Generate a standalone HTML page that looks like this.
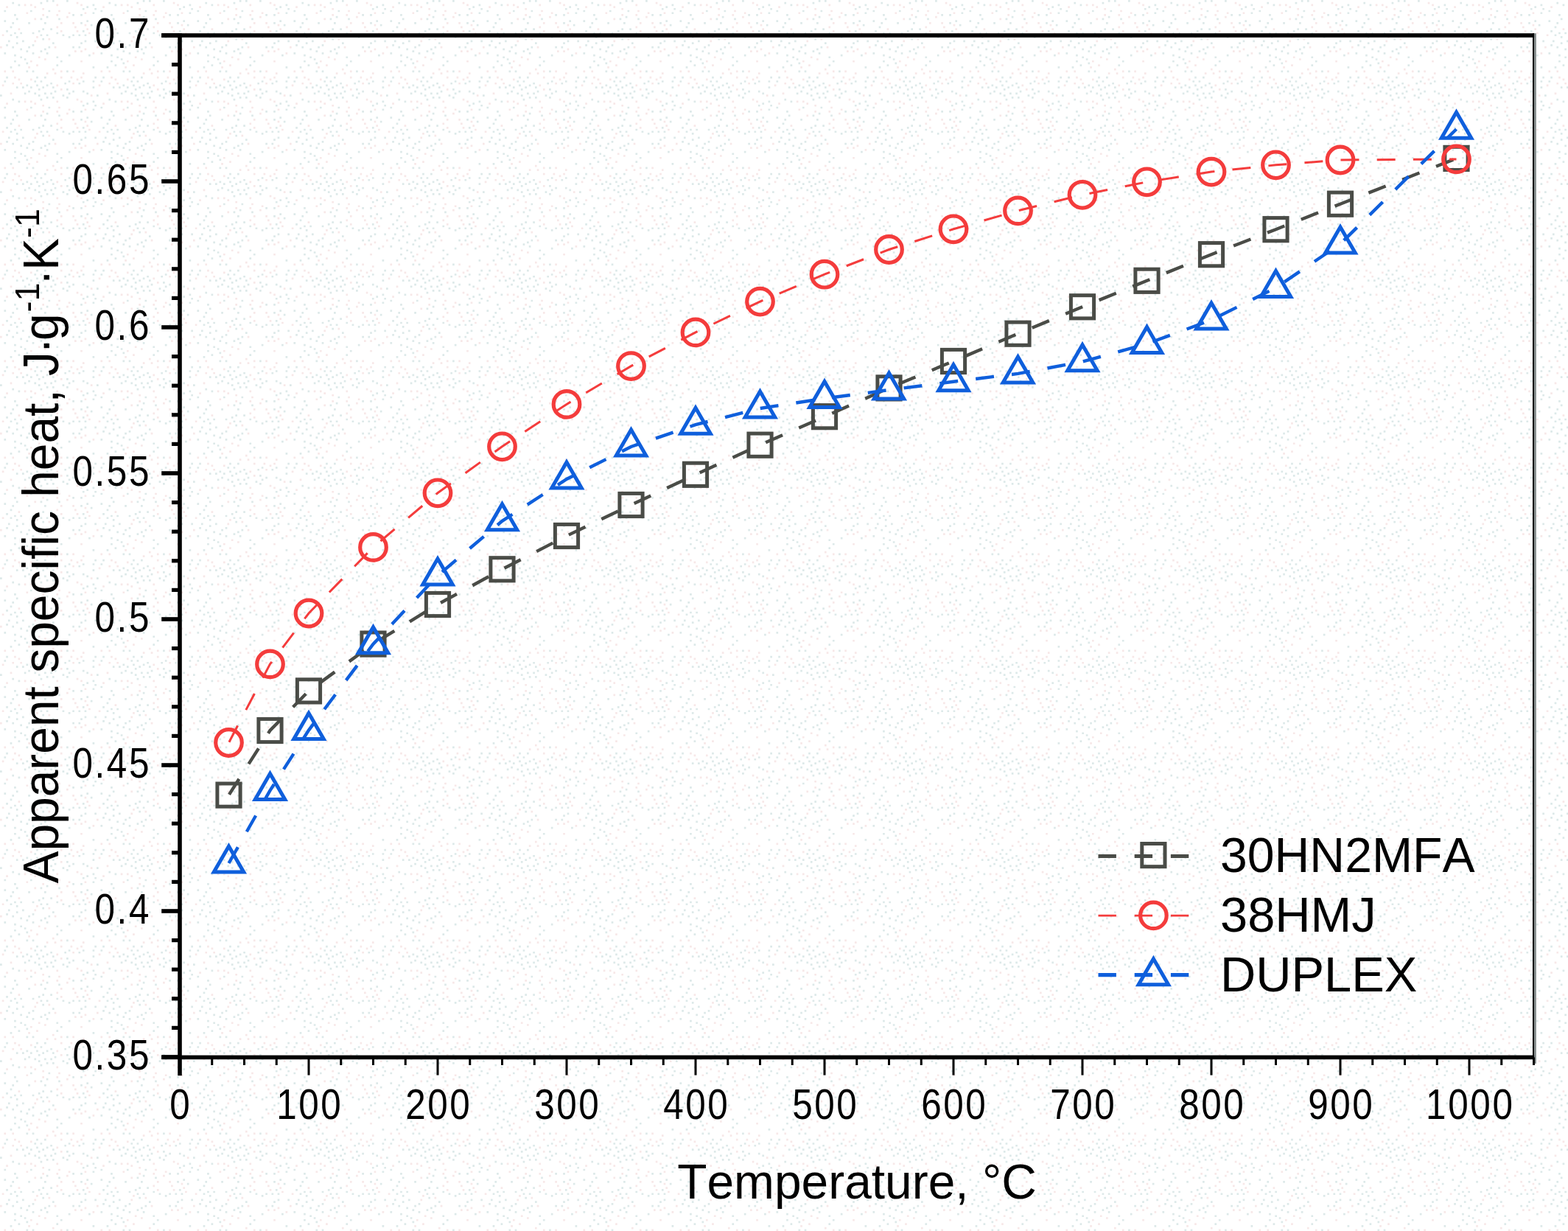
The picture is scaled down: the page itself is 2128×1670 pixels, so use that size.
<!DOCTYPE html>
<html><head><meta charset="utf-8"><title>Apparent specific heat</title>
<style>html,body{margin:0;padding:0;background:#fff;}svg{display:block;} text{font-kerning:none;}</style>
</head><body>
<svg width="2128" height="1670" viewBox="0 0 2128 1670">
<rect x="0" y="0" width="2128" height="1670" fill="#ffffff"/>
<defs><pattern id="dith" patternUnits="userSpaceOnUse" x="0" y="0" width="131" height="131"><path d="M49.12,103.71h2.7v2.7h-2.7zM111.90,40.94h2.7v2.7h-2.7zM35.48,84.60h2.7v2.7h-2.7zM49.12,114.62h2.7v2.7h-2.7zM114.62,54.58h2.7v2.7h-2.7zM109.17,30.02h2.7v2.7h-2.7zM76.42,87.33h2.7v2.7h-2.7zM92.79,109.17h2.7v2.7h-2.7zM106.44,46.40h2.7v2.7h-2.7zM125.54,16.38h2.7v2.7h-2.7zM27.29,43.67h2.7v2.7h-2.7zM16.38,62.77h2.7v2.7h-2.7zM24.56,87.33h2.7v2.7h-2.7zM60.04,65.50h2.7v2.7h-2.7zM70.96,117.35h2.7v2.7h-2.7zM62.77,46.40h2.7v2.7h-2.7zM62.77,0.00h2.7v2.7h-2.7zM21.83,24.56h2.7v2.7h-2.7zM90.06,95.52h2.7v2.7h-2.7zM38.21,30.02h2.7v2.7h-2.7zM76.42,43.67h2.7v2.7h-2.7zM128.27,54.58h2.7v2.7h-2.7zM92.79,49.12h2.7v2.7h-2.7zM62.77,21.83h2.7v2.7h-2.7zM35.48,114.62h2.7v2.7h-2.7zM90.06,120.08h2.7v2.7h-2.7zM79.15,24.56h2.7v2.7h-2.7zM98.25,46.40h2.7v2.7h-2.7zM70.96,0.00h2.7v2.7h-2.7zM117.35,125.54h2.7v2.7h-2.7zM106.44,111.90h2.7v2.7h-2.7zM68.23,111.90h2.7v2.7h-2.7zM73.69,122.81h2.7v2.7h-2.7zM43.67,43.67h2.7v2.7h-2.7zM54.58,46.40h2.7v2.7h-2.7zM38.21,62.77h2.7v2.7h-2.7zM128.27,10.92h2.7v2.7h-2.7zM62.77,114.62h2.7v2.7h-2.7zM84.60,128.27h2.7v2.7h-2.7zM125.54,90.06h2.7v2.7h-2.7zM51.85,120.08h2.7v2.7h-2.7zM125.54,5.46h2.7v2.7h-2.7zM46.40,125.54h2.7v2.7h-2.7zM87.33,111.90h2.7v2.7h-2.7zM19.10,43.67h2.7v2.7h-2.7zM19.10,81.88h2.7v2.7h-2.7zM125.54,109.17h2.7v2.7h-2.7zM70.96,57.31h2.7v2.7h-2.7zM60.04,125.54h2.7v2.7h-2.7zM60.04,103.71h2.7v2.7h-2.7zM8.19,60.04h2.7v2.7h-2.7zM0.00,128.27h2.7v2.7h-2.7zM54.58,2.73h2.7v2.7h-2.7zM5.46,109.17h2.7v2.7h-2.7zM92.79,125.54h2.7v2.7h-2.7zM13.65,90.06h2.7v2.7h-2.7zM43.67,70.96h2.7v2.7h-2.7zM19.10,73.69h2.7v2.7h-2.7zM81.88,81.88h2.7v2.7h-2.7zM13.65,46.40h2.7v2.7h-2.7zM40.94,13.65h2.7v2.7h-2.7zM117.35,8.19h2.7v2.7h-2.7zM5.46,70.96h2.7v2.7h-2.7zM21.83,57.31h2.7v2.7h-2.7zM27.29,76.42h2.7v2.7h-2.7zM92.79,73.69h2.7v2.7h-2.7zM54.58,109.17h2.7v2.7h-2.7zM57.31,38.21h2.7v2.7h-2.7zM10.92,54.58h2.7v2.7h-2.7zM5.46,13.65h2.7v2.7h-2.7zM68.23,38.21h2.7v2.7h-2.7zM40.94,117.35h2.7v2.7h-2.7zM38.21,122.81h2.7v2.7h-2.7zM120.08,73.69h2.7v2.7h-2.7zM109.17,57.31h2.7v2.7h-2.7zM98.25,62.77h2.7v2.7h-2.7zM117.35,27.29h2.7v2.7h-2.7zM21.83,117.35h2.7v2.7h-2.7zM21.83,49.12h2.7v2.7h-2.7zM8.19,40.94h2.7v2.7h-2.7zM65.50,13.65h2.7v2.7h-2.7zM65.50,62.77h2.7v2.7h-2.7zM24.56,5.46h2.7v2.7h-2.7zM111.90,109.17h2.7v2.7h-2.7zM16.38,30.02h2.7v2.7h-2.7zM46.40,109.17h2.7v2.7h-2.7zM54.58,68.23h2.7v2.7h-2.7zM35.48,95.52h2.7v2.7h-2.7zM76.42,76.42h2.7v2.7h-2.7zM43.67,95.52h2.7v2.7h-2.7zM30.02,54.58h2.7v2.7h-2.7zM8.19,103.71h2.7v2.7h-2.7zM128.27,103.71h2.7v2.7h-2.7zM51.85,128.27h2.7v2.7h-2.7zM60.04,30.02h2.7v2.7h-2.7zM62.77,70.96h2.7v2.7h-2.7zM114.62,46.40h2.7v2.7h-2.7zM90.06,0.00h2.7v2.7h-2.7zM13.65,35.48h2.7v2.7h-2.7zM106.44,62.77h2.7v2.7h-2.7zM16.38,2.73h2.7v2.7h-2.7zM30.02,117.35h2.7v2.7h-2.7zM54.58,24.56h2.7v2.7h-2.7zM5.46,27.29h2.7v2.7h-2.7zM122.81,32.75h2.7v2.7h-2.7zM57.31,117.35h2.7v2.7h-2.7zM43.67,60.04h2.7v2.7h-2.7zM125.54,117.35h2.7v2.7h-2.7zM27.29,65.50h2.7v2.7h-2.7zM111.90,122.81h2.7v2.7h-2.7zM109.17,19.10h2.7v2.7h-2.7zM111.90,10.92h2.7v2.7h-2.7zM57.31,51.85h2.7v2.7h-2.7zM98.25,19.10h2.7v2.7h-2.7zM32.75,79.15h2.7v2.7h-2.7zM51.85,40.94h2.7v2.7h-2.7zM32.75,125.54h2.7v2.7h-2.7zM98.25,122.81h2.7v2.7h-2.7zM84.60,46.40h2.7v2.7h-2.7zM19.10,19.10h2.7v2.7h-2.7zM68.23,125.54h2.7v2.7h-2.7zM35.48,68.23h2.7v2.7h-2.7z" fill="#dde9e9"/><path d="M51.85,76.42h2.7v2.7h-2.7zM120.08,43.67h2.7v2.7h-2.7zM27.29,111.90h2.7v2.7h-2.7zM103.71,106.44h2.7v2.7h-2.7zM100.98,35.48h2.7v2.7h-2.7zM38.21,90.06h2.7v2.7h-2.7zM111.90,98.25h2.7v2.7h-2.7zM114.62,16.38h2.7v2.7h-2.7zM40.94,81.88h2.7v2.7h-2.7zM40.94,5.46h2.7v2.7h-2.7zM0.00,62.77h2.7v2.7h-2.7zM109.17,103.71h2.7v2.7h-2.7zM5.46,95.52h2.7v2.7h-2.7zM49.12,49.12h2.7v2.7h-2.7zM81.88,103.71h2.7v2.7h-2.7zM109.17,68.23h2.7v2.7h-2.7zM2.73,46.40h2.7v2.7h-2.7zM35.48,16.38h2.7v2.7h-2.7zM16.38,95.52h2.7v2.7h-2.7zM109.17,5.46h2.7v2.7h-2.7zM125.54,70.96h2.7v2.7h-2.7zM40.94,106.44h2.7v2.7h-2.7zM13.65,125.54h2.7v2.7h-2.7zM57.31,19.10h2.7v2.7h-2.7zM103.71,2.73h2.7v2.7h-2.7zM98.25,95.52h2.7v2.7h-2.7zM114.62,32.75h2.7v2.7h-2.7zM8.19,8.19h2.7v2.7h-2.7zM57.31,10.92h2.7v2.7h-2.7zM2.73,114.62h2.7v2.7h-2.7zM46.40,24.56h2.7v2.7h-2.7zM46.40,8.19h2.7v2.7h-2.7zM65.50,51.85h2.7v2.7h-2.7zM49.12,87.33h2.7v2.7h-2.7zM76.42,35.48h2.7v2.7h-2.7zM98.25,111.90h2.7v2.7h-2.7zM70.96,92.79h2.7v2.7h-2.7zM60.04,79.15h2.7v2.7h-2.7zM100.98,68.23h2.7v2.7h-2.7zM122.81,128.27h2.7v2.7h-2.7zM81.88,95.52h2.7v2.7h-2.7zM109.17,81.88h2.7v2.7h-2.7zM19.10,103.71h2.7v2.7h-2.7zM114.62,65.50h2.7v2.7h-2.7zM76.42,19.10h2.7v2.7h-2.7zM81.88,120.08h2.7v2.7h-2.7zM46.40,54.58h2.7v2.7h-2.7zM62.77,98.25h2.7v2.7h-2.7zM95.52,103.71h2.7v2.7h-2.7zM76.42,114.62h2.7v2.7h-2.7zM81.88,30.02h2.7v2.7h-2.7zM73.69,62.77h2.7v2.7h-2.7zM73.69,98.25h2.7v2.7h-2.7zM79.15,13.65h2.7v2.7h-2.7zM16.38,111.90h2.7v2.7h-2.7zM92.79,16.38h2.7v2.7h-2.7zM117.35,38.21h2.7v2.7h-2.7zM24.56,38.21h2.7v2.7h-2.7zM24.56,106.44h2.7v2.7h-2.7zM81.88,40.94h2.7v2.7h-2.7zM76.42,5.46h2.7v2.7h-2.7zM32.75,5.46h2.7v2.7h-2.7zM98.25,30.02h2.7v2.7h-2.7zM103.71,40.94h2.7v2.7h-2.7zM90.06,21.83h2.7v2.7h-2.7z" fill="#f7e8e8"/></pattern></defs>
<rect x="0" y="0" width="2128" height="1670" fill="url(#dith)"/>
<g fill="#000">
<rect x="241.20" y="45.20" width="5.6" height="1414.00"/>
<rect x="219.20" y="1431.60" width="1863.10" height="5.6"/>
<rect x="219.20" y="45.20" width="1863.10" height="5.6"/>
<rect x="2080" y="45.20" width="2.3" height="1397.70"/>
<rect x="2082.3" y="45.20" width="2.5" height="1397.70" fill="#7d8585"/>
<rect x="219.2" y="1431.20" width="24.80" height="5.6"/>
<rect x="219.2" y="1233.20" width="24.80" height="5.6"/>
<rect x="219.2" y="1035.20" width="24.80" height="5.6"/>
<rect x="219.2" y="837.20" width="24.80" height="5.6"/>
<rect x="219.2" y="639.20" width="24.80" height="5.6"/>
<rect x="219.2" y="441.20" width="24.80" height="5.6"/>
<rect x="219.2" y="243.20" width="24.80" height="5.6"/>
<rect x="219.2" y="45.20" width="24.80" height="5.6"/>
<rect x="233" y="1391.80" width="11.00" height="5.2"/>
<rect x="233" y="1352.20" width="11.00" height="5.2"/>
<rect x="233" y="1312.60" width="11.00" height="5.2"/>
<rect x="233" y="1273.00" width="11.00" height="5.2"/>
<rect x="233" y="1193.80" width="11.00" height="5.2"/>
<rect x="233" y="1154.20" width="11.00" height="5.2"/>
<rect x="233" y="1114.60" width="11.00" height="5.2"/>
<rect x="233" y="1075.00" width="11.00" height="5.2"/>
<rect x="233" y="995.80" width="11.00" height="5.2"/>
<rect x="233" y="956.20" width="11.00" height="5.2"/>
<rect x="233" y="916.60" width="11.00" height="5.2"/>
<rect x="233" y="877.00" width="11.00" height="5.2"/>
<rect x="233" y="797.80" width="11.00" height="5.2"/>
<rect x="233" y="758.20" width="11.00" height="5.2"/>
<rect x="233" y="718.60" width="11.00" height="5.2"/>
<rect x="233" y="679.00" width="11.00" height="5.2"/>
<rect x="233" y="599.80" width="11.00" height="5.2"/>
<rect x="233" y="560.20" width="11.00" height="5.2"/>
<rect x="233" y="520.60" width="11.00" height="5.2"/>
<rect x="233" y="481.00" width="11.00" height="5.2"/>
<rect x="233" y="401.80" width="11.00" height="5.2"/>
<rect x="233" y="362.20" width="11.00" height="5.2"/>
<rect x="233" y="322.60" width="11.00" height="5.2"/>
<rect x="233" y="283.00" width="11.00" height="5.2"/>
<rect x="233" y="203.80" width="11.00" height="5.2"/>
<rect x="233" y="164.20" width="11.00" height="5.2"/>
<rect x="233" y="124.60" width="11.00" height="5.2"/>
<rect x="233" y="85.00" width="11.00" height="5.2"/>
<rect x="286.25" y="1434.40" width="3" height="10.60"/>
<rect x="330.00" y="1434.40" width="3" height="10.60"/>
<rect x="373.75" y="1434.40" width="3" height="10.60"/>
<rect x="417.50" y="1434.40" width="3" height="24.20"/>
<rect x="461.25" y="1434.40" width="3" height="10.60"/>
<rect x="505.00" y="1434.40" width="3" height="10.60"/>
<rect x="548.75" y="1434.40" width="3" height="10.60"/>
<rect x="592.50" y="1434.40" width="3" height="24.20"/>
<rect x="636.25" y="1434.40" width="3" height="10.60"/>
<rect x="680.00" y="1434.40" width="3" height="10.60"/>
<rect x="723.75" y="1434.40" width="3" height="10.60"/>
<rect x="767.50" y="1434.40" width="3" height="24.20"/>
<rect x="811.25" y="1434.40" width="3" height="10.60"/>
<rect x="855.00" y="1434.40" width="3" height="10.60"/>
<rect x="898.75" y="1434.40" width="3" height="10.60"/>
<rect x="942.50" y="1434.40" width="3" height="24.20"/>
<rect x="986.25" y="1434.40" width="3" height="10.60"/>
<rect x="1030.00" y="1434.40" width="3" height="10.60"/>
<rect x="1073.75" y="1434.40" width="3" height="10.60"/>
<rect x="1117.50" y="1434.40" width="3" height="24.20"/>
<rect x="1161.25" y="1434.40" width="3" height="10.60"/>
<rect x="1205.00" y="1434.40" width="3" height="10.60"/>
<rect x="1248.75" y="1434.40" width="3" height="10.60"/>
<rect x="1292.50" y="1434.40" width="3" height="24.20"/>
<rect x="1336.25" y="1434.40" width="3" height="10.60"/>
<rect x="1380.00" y="1434.40" width="3" height="10.60"/>
<rect x="1423.75" y="1434.40" width="3" height="10.60"/>
<rect x="1467.50" y="1434.40" width="3" height="24.20"/>
<rect x="1511.25" y="1434.40" width="3" height="10.60"/>
<rect x="1555.00" y="1434.40" width="3" height="10.60"/>
<rect x="1598.75" y="1434.40" width="3" height="10.60"/>
<rect x="1642.50" y="1434.40" width="3" height="24.20"/>
<rect x="1686.25" y="1434.40" width="3" height="10.60"/>
<rect x="1730.00" y="1434.40" width="3" height="10.60"/>
<rect x="1773.75" y="1434.40" width="3" height="10.60"/>
<rect x="1817.50" y="1434.40" width="3" height="24.20"/>
<rect x="1861.25" y="1434.40" width="3" height="10.60"/>
<rect x="1905.00" y="1434.40" width="3" height="10.60"/>
<rect x="1948.75" y="1434.40" width="3" height="10.60"/>
<rect x="1992.50" y="1434.40" width="3" height="24.20"/>
<rect x="2036.25" y="1434.40" width="3" height="10.60"/>
<rect x="2080.00" y="1434.40" width="3" height="10.60"/>
</g>
<g font-family="'Liberation Sans', Arial, sans-serif" font-size="57.5" letter-spacing="3.02" fill="#000">
<text transform="translate(205.0,1450.8) scale(0.86,1)" text-anchor="end">0.35</text>
<text transform="translate(205.0,1252.8) scale(0.86,1)" text-anchor="end">0.4</text>
<text transform="translate(205.0,1054.8) scale(0.86,1)" text-anchor="end">0.45</text>
<text transform="translate(205.0,856.8) scale(0.86,1)" text-anchor="end">0.5</text>
<text transform="translate(205.0,658.8) scale(0.86,1)" text-anchor="end">0.55</text>
<text transform="translate(205.0,460.8) scale(0.86,1)" text-anchor="end">0.6</text>
<text transform="translate(205.0,262.8) scale(0.86,1)" text-anchor="end">0.65</text>
<text transform="translate(205.0,64.8) scale(0.86,1)" text-anchor="end">0.7</text>
<text transform="translate(245.3,1518.4) scale(0.86,1)" text-anchor="middle">0</text>
<text transform="translate(420.3,1518.4) scale(0.86,1)" text-anchor="middle">100</text>
<text transform="translate(595.3,1518.4) scale(0.86,1)" text-anchor="middle">200</text>
<text transform="translate(770.3,1518.4) scale(0.86,1)" text-anchor="middle">300</text>
<text transform="translate(945.3,1518.4) scale(0.86,1)" text-anchor="middle">400</text>
<text transform="translate(1120.3,1518.4) scale(0.86,1)" text-anchor="middle">500</text>
<text transform="translate(1295.3,1518.4) scale(0.86,1)" text-anchor="middle">600</text>
<text transform="translate(1470.3,1518.4) scale(0.86,1)" text-anchor="middle">700</text>
<text transform="translate(1645.3,1518.4) scale(0.86,1)" text-anchor="middle">800</text>
<text transform="translate(1820.3,1518.4) scale(0.86,1)" text-anchor="middle">900</text>
<text transform="translate(1995.3,1518.4) scale(0.86,1)" text-anchor="middle">1000</text>
</g>
<text transform="translate(1163.0,1625.7) scale(0.976,1)" font-family="'Liberation Sans', Arial, sans-serif" font-size="67.5" text-anchor="middle" fill="#000" style="font-kerning:none">Temperature, °C</text>
<text transform="translate(79.3,1198.5) rotate(-90) scale(0.955,1)" font-family="'Liberation Sans', Arial, sans-serif" font-size="69.0" fill="#000"><tspan x="0" y="0">Apparent specific heat, J</tspan><tspan x="752.39" y="2.3">·</tspan><tspan x="771.24" y="0">g</tspan><tspan x="811.65" y="-26.3" font-size="47.0">-1</tspan><tspan x="849.45" y="2.3">·</tspan><tspan x="870.78" y="0">K</tspan><tspan x="916.78" y="-26.3" font-size="47.0">-1</tspan></text>
<path d="M310.50,1078.60 L366.50,991.00 L419.00,937.40 L506.50,873.60 L594.00,820.00 L681.50,772.30 L769.00,727.00 L856.50,685.00 L944.00,643.80 L1031.50,603.70 L1119.00,565.20 L1206.50,526.40 L1294.00,490.00 L1381.50,452.70 L1469.00,416.30 L1556.50,380.80 L1644.00,345.20 L1731.50,311.20 L1819.00,276.70 L1976.50,214.90" fill="none" stroke="#4a4c47" stroke-width="4.4" stroke-dasharray="25 24.2" stroke-dashoffset="-0.9"/>
<rect x="294.90" y="1063.00" width="31.20" height="31.20" fill="none" stroke="#4a4c47" stroke-width="5.0"/>
<rect x="350.90" y="975.40" width="31.20" height="31.20" fill="none" stroke="#4a4c47" stroke-width="5.0"/>
<rect x="403.40" y="921.80" width="31.20" height="31.20" fill="none" stroke="#4a4c47" stroke-width="5.0"/>
<rect x="490.90" y="858.00" width="31.20" height="31.20" fill="none" stroke="#4a4c47" stroke-width="5.0"/>
<rect x="578.40" y="804.40" width="31.20" height="31.20" fill="none" stroke="#4a4c47" stroke-width="5.0"/>
<rect x="665.90" y="756.70" width="31.20" height="31.20" fill="none" stroke="#4a4c47" stroke-width="5.0"/>
<rect x="753.40" y="711.40" width="31.20" height="31.20" fill="none" stroke="#4a4c47" stroke-width="5.0"/>
<rect x="840.90" y="669.40" width="31.20" height="31.20" fill="none" stroke="#4a4c47" stroke-width="5.0"/>
<rect x="928.40" y="628.20" width="31.20" height="31.20" fill="none" stroke="#4a4c47" stroke-width="5.0"/>
<rect x="1015.90" y="588.10" width="31.20" height="31.20" fill="none" stroke="#4a4c47" stroke-width="5.0"/>
<rect x="1103.40" y="549.60" width="31.20" height="31.20" fill="none" stroke="#4a4c47" stroke-width="5.0"/>
<rect x="1190.90" y="510.80" width="31.20" height="31.20" fill="none" stroke="#4a4c47" stroke-width="5.0"/>
<rect x="1278.40" y="474.40" width="31.20" height="31.20" fill="none" stroke="#4a4c47" stroke-width="5.0"/>
<rect x="1365.90" y="437.10" width="31.20" height="31.20" fill="none" stroke="#4a4c47" stroke-width="5.0"/>
<rect x="1453.40" y="400.70" width="31.20" height="31.20" fill="none" stroke="#4a4c47" stroke-width="5.0"/>
<rect x="1540.90" y="365.20" width="31.20" height="31.20" fill="none" stroke="#4a4c47" stroke-width="5.0"/>
<rect x="1628.40" y="329.60" width="31.20" height="31.20" fill="none" stroke="#4a4c47" stroke-width="5.0"/>
<rect x="1715.90" y="295.60" width="31.20" height="31.20" fill="none" stroke="#4a4c47" stroke-width="5.0"/>
<rect x="1803.40" y="261.10" width="31.20" height="31.20" fill="none" stroke="#4a4c47" stroke-width="5.0"/>
<rect x="1960.90" y="199.30" width="31.20" height="31.20" fill="none" stroke="#4a4c47" stroke-width="5.0"/>
<path d="M310.50,1007.50 L366.50,900.90 L419.00,832.00 L506.50,742.40 L594.00,668.80 L681.50,605.80 L769.00,548.40 L856.50,496.60 L944.00,450.90 L1031.50,409.10 L1119.00,372.20 L1206.50,338.50 L1294.00,310.80 L1381.50,285.90 L1469.00,264.30 L1556.50,246.80 L1644.00,233.10 L1731.50,223.80 L1819.00,217.00 L1976.50,215.90" fill="none" stroke="#f43c3c" stroke-width="3.0" stroke-dasharray="25 24.2" stroke-dashoffset="-0.9"/>
<circle cx="310.50" cy="1007.50" r="17.80" fill="none" stroke="#f43c3c" stroke-width="5.2"/>
<circle cx="366.50" cy="900.90" r="17.80" fill="none" stroke="#f43c3c" stroke-width="5.2"/>
<circle cx="419.00" cy="832.00" r="17.80" fill="none" stroke="#f43c3c" stroke-width="5.2"/>
<circle cx="506.50" cy="742.40" r="17.80" fill="none" stroke="#f43c3c" stroke-width="5.2"/>
<circle cx="594.00" cy="668.80" r="17.80" fill="none" stroke="#f43c3c" stroke-width="5.2"/>
<circle cx="681.50" cy="605.80" r="17.80" fill="none" stroke="#f43c3c" stroke-width="5.2"/>
<circle cx="769.00" cy="548.40" r="17.80" fill="none" stroke="#f43c3c" stroke-width="5.2"/>
<circle cx="856.50" cy="496.60" r="17.80" fill="none" stroke="#f43c3c" stroke-width="5.2"/>
<circle cx="944.00" cy="450.90" r="17.80" fill="none" stroke="#f43c3c" stroke-width="5.2"/>
<circle cx="1031.50" cy="409.10" r="17.80" fill="none" stroke="#f43c3c" stroke-width="5.2"/>
<circle cx="1119.00" cy="372.20" r="17.80" fill="none" stroke="#f43c3c" stroke-width="5.2"/>
<circle cx="1206.50" cy="338.50" r="17.80" fill="none" stroke="#f43c3c" stroke-width="5.2"/>
<circle cx="1294.00" cy="310.80" r="17.80" fill="none" stroke="#f43c3c" stroke-width="5.2"/>
<circle cx="1381.50" cy="285.90" r="17.80" fill="none" stroke="#f43c3c" stroke-width="5.2"/>
<circle cx="1469.00" cy="264.30" r="17.80" fill="none" stroke="#f43c3c" stroke-width="5.2"/>
<circle cx="1556.50" cy="246.80" r="17.80" fill="none" stroke="#f43c3c" stroke-width="5.2"/>
<circle cx="1644.00" cy="233.10" r="17.80" fill="none" stroke="#f43c3c" stroke-width="5.2"/>
<circle cx="1731.50" cy="223.80" r="17.80" fill="none" stroke="#f43c3c" stroke-width="5.2"/>
<circle cx="1819.00" cy="217.00" r="17.80" fill="none" stroke="#f43c3c" stroke-width="5.2"/>
<circle cx="1976.50" cy="215.90" r="17.80" fill="none" stroke="#f43c3c" stroke-width="5.2"/>
<path d="M310.50,1171.00 L366.50,1072.40 L419.00,990.60 L506.50,873.70 L594.00,780.90 L681.50,706.80 L769.00,650.00 L856.50,606.00 L944.00,576.20 L1031.50,554.00 L1119.00,540.60 L1206.50,529.00 L1294.00,517.70 L1381.50,506.90 L1469.00,490.70 L1556.50,466.40 L1644.00,434.10 L1731.50,390.40 L1819.00,330.90 L1976.50,175.20" fill="none" stroke="#0f5fdc" stroke-width="4.4" stroke-dasharray="25 24.2" stroke-dashoffset="0.0"/>
<polygon points="310.50,1148.00 330.75,1183.00 290.25,1183.00" fill="none" stroke="#0f5fdc" stroke-width="5.0" stroke-linejoin="miter"/>
<polygon points="366.50,1049.40 386.75,1084.40 346.25,1084.40" fill="none" stroke="#0f5fdc" stroke-width="5.0" stroke-linejoin="miter"/>
<polygon points="419.00,967.60 439.25,1002.60 398.75,1002.60" fill="none" stroke="#0f5fdc" stroke-width="5.0" stroke-linejoin="miter"/>
<polygon points="506.50,850.70 526.75,885.70 486.25,885.70" fill="none" stroke="#0f5fdc" stroke-width="5.0" stroke-linejoin="miter"/>
<polygon points="594.00,757.90 614.25,792.90 573.75,792.90" fill="none" stroke="#0f5fdc" stroke-width="5.0" stroke-linejoin="miter"/>
<polygon points="681.50,683.80 701.75,718.80 661.25,718.80" fill="none" stroke="#0f5fdc" stroke-width="5.0" stroke-linejoin="miter"/>
<polygon points="769.00,627.00 789.25,662.00 748.75,662.00" fill="none" stroke="#0f5fdc" stroke-width="5.0" stroke-linejoin="miter"/>
<polygon points="856.50,583.00 876.75,618.00 836.25,618.00" fill="none" stroke="#0f5fdc" stroke-width="5.0" stroke-linejoin="miter"/>
<polygon points="944.00,553.20 964.25,588.20 923.75,588.20" fill="none" stroke="#0f5fdc" stroke-width="5.0" stroke-linejoin="miter"/>
<polygon points="1031.50,531.00 1051.75,566.00 1011.25,566.00" fill="none" stroke="#0f5fdc" stroke-width="5.0" stroke-linejoin="miter"/>
<polygon points="1119.00,517.60 1139.25,552.60 1098.75,552.60" fill="none" stroke="#0f5fdc" stroke-width="5.0" stroke-linejoin="miter"/>
<polygon points="1206.50,506.00 1226.75,541.00 1186.25,541.00" fill="none" stroke="#0f5fdc" stroke-width="5.0" stroke-linejoin="miter"/>
<polygon points="1294.00,494.70 1314.25,529.70 1273.75,529.70" fill="none" stroke="#0f5fdc" stroke-width="5.0" stroke-linejoin="miter"/>
<polygon points="1381.50,483.90 1401.75,518.90 1361.25,518.90" fill="none" stroke="#0f5fdc" stroke-width="5.0" stroke-linejoin="miter"/>
<polygon points="1469.00,467.70 1489.25,502.70 1448.75,502.70" fill="none" stroke="#0f5fdc" stroke-width="5.0" stroke-linejoin="miter"/>
<polygon points="1556.50,443.40 1576.75,478.40 1536.25,478.40" fill="none" stroke="#0f5fdc" stroke-width="5.0" stroke-linejoin="miter"/>
<polygon points="1644.00,411.10 1664.25,446.10 1623.75,446.10" fill="none" stroke="#0f5fdc" stroke-width="5.0" stroke-linejoin="miter"/>
<polygon points="1731.50,367.40 1751.75,402.40 1711.25,402.40" fill="none" stroke="#0f5fdc" stroke-width="5.0" stroke-linejoin="miter"/>
<polygon points="1819.00,307.90 1839.25,342.90 1798.75,342.90" fill="none" stroke="#0f5fdc" stroke-width="5.0" stroke-linejoin="miter"/>
<polygon points="1976.50,152.20 1996.75,187.20 1956.25,187.20" fill="none" stroke="#0f5fdc" stroke-width="5.0" stroke-linejoin="miter"/>
<path d="M1490.5,1161.45 L1613.4,1161.45" stroke="#4a4c47" stroke-width="4.9" stroke-dasharray="24.4 24.8" fill="none"/>
<rect x="1549.80" y="1144.50" width="31.20" height="31.20" fill="none" stroke="#4a4c47" stroke-width="5.0"/>
<path d="M1490.5,1242.15 L1613.4,1242.15" stroke="#f43c3c" stroke-width="2.8" stroke-dasharray="24.4 24.8" fill="none"/>
<circle cx="1565.40" cy="1241.90" r="17.80" fill="none" stroke="#f43c3c" stroke-width="5.2"/>
<path d="M1490.5,1322.6 L1613.4,1322.6" stroke="#0f5fdc" stroke-width="5.2" stroke-dasharray="24.4 24.8" fill="none"/>
<polygon points="1565.40,1300.80 1585.65,1335.80 1545.15,1335.80" fill="none" stroke="#0f5fdc" stroke-width="5.0" stroke-linejoin="miter"/>
<g font-family="'Liberation Sans', Arial, sans-serif" font-size="66.5" fill="#000">
<text transform="translate(1656.0,1183.4) scale(0.995,1)">30HN2MFA</text>
<text transform="translate(1656.0,1264.2) scale(1.005,1)">38HMJ</text>
<text transform="translate(1656.0,1345.2) scale(1.005,1)">DUPLEX</text>
</g>
</svg>
</body></html>
